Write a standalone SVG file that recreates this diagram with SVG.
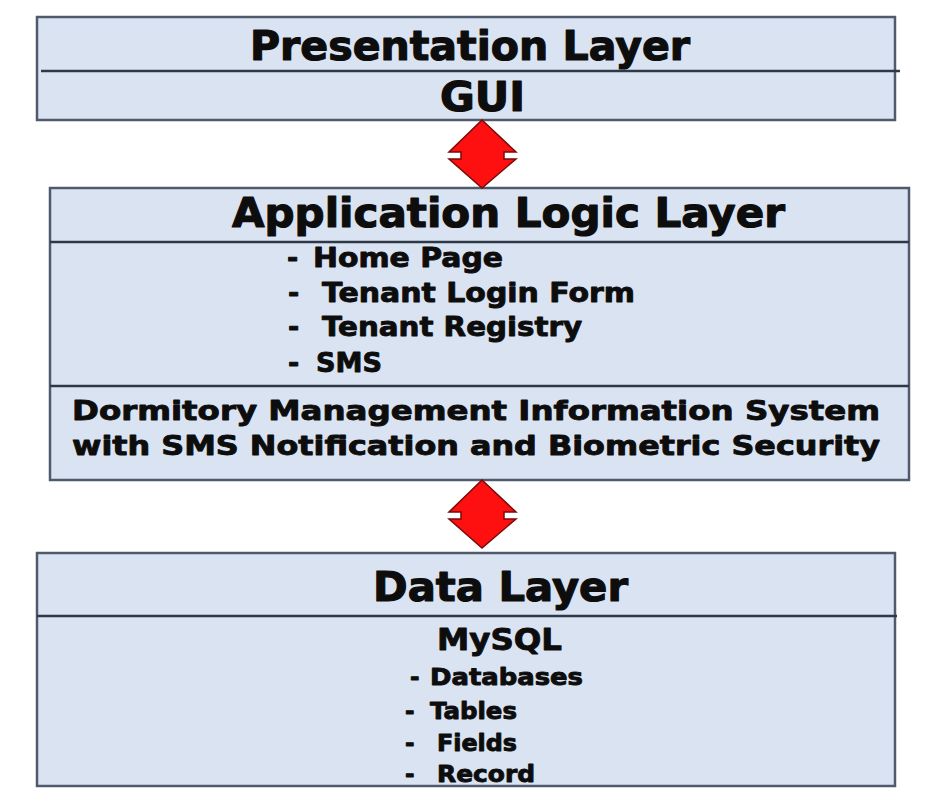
<svg xmlns="http://www.w3.org/2000/svg" xmlns:xlink="http://www.w3.org/1999/xlink" width="928" height="801" viewBox="0 0 928 801">
<style>
.box{fill:#dae3f2;stroke:#4f5b6d;stroke-width:2.5}
.div{stroke:#2e3846;stroke-width:2.5}
.t{font-family:"DejaVu Sans","Liberation Sans",sans-serif;font-weight:bold;fill:#0d0d0d;stroke:#0d0d0d;stroke-width:0.9;stroke-linejoin:round}
.h{font-size:41px;stroke-width:1.2}
.m{font-size:27px}
.s{font-size:23px}
.arrow{fill:#ff1010;stroke:#7a0a0a;stroke-width:1.5;stroke-linejoin:miter}
</style>
<defs>
<path id="dbl" d="M482,0 L516,32 L504,32 L504,39 L516,39 L482,68 L449,39 L461,39 L461,32 L449,32 Z"/>
</defs>
<rect width="928" height="801" fill="#ffffff"/>
<g id="presentation">
<rect class="box" x="37" y="17" width="858" height="103"/>
<line class="div" x1="41" y1="71" x2="900" y2="71"/>
<text class="t h" x="250" y="60" textLength="440" lengthAdjust="spacingAndGlyphs">Presentation Layer</text>
<text class="t h" x="440" y="111" textLength="85" lengthAdjust="spacingAndGlyphs">GUI</text>
</g>
<g id="application">
<rect class="box" x="50" y="188" width="859" height="292"/>
<line class="div" x1="50" y1="242" x2="909" y2="242"/>
<line class="div" x1="50" y1="386" x2="909" y2="386"/>
<text class="t h" x="232" y="227" textLength="553" lengthAdjust="spacingAndGlyphs">Application Logic Layer</text>
<text class="t m" y="267"><tspan x="287">- </tspan><tspan x="313" textLength="190" lengthAdjust="spacingAndGlyphs">Home Page</tspan></text>
<text class="t m" y="302"><tspan x="288">- </tspan><tspan x="322" textLength="313" lengthAdjust="spacingAndGlyphs">Tenant Login Form</tspan></text>
<text class="t m" y="336"><tspan x="288">- </tspan><tspan x="322" textLength="260" lengthAdjust="spacingAndGlyphs">Tenant Registry</tspan></text>
<text class="t m" y="372"><tspan x="288">- </tspan><tspan x="316" textLength="66" lengthAdjust="spacingAndGlyphs">SMS</tspan></text>
<text class="t m" x="72" y="420" textLength="808" lengthAdjust="spacingAndGlyphs">Dormitory Management Information System</text>
<text class="t m" x="72" y="455" textLength="808" lengthAdjust="spacingAndGlyphs">with SMS Notification and Biometric Security</text>
</g>
<g id="data">
<rect class="box" x="37" y="553" width="858" height="233"/>
<line class="div" x1="37" y1="616" x2="897" y2="616"/>
<text class="t h" x="373" y="601" textLength="255" lengthAdjust="spacingAndGlyphs">Data Layer</text>
<text class="t" style="font-size:31px" x="437" y="650" textLength="125" lengthAdjust="spacingAndGlyphs">MySQL</text>
<text class="t s" y="685"><tspan x="410">- </tspan><tspan x="430" textLength="153" lengthAdjust="spacingAndGlyphs">Databases</tspan></text>
<text class="t s" y="719"><tspan x="405">- </tspan><tspan x="430" textLength="87" lengthAdjust="spacingAndGlyphs">Tables</tspan></text>
<text class="t s" y="751"><tspan x="405">- </tspan><tspan x="437" textLength="80" lengthAdjust="spacingAndGlyphs">Fields</tspan></text>
<text class="t s" y="782"><tspan x="405">- </tspan><tspan x="437" textLength="98" lengthAdjust="spacingAndGlyphs">Record</tspan></text>
</g>
<g id="connectors">
<use xlink:href="#dbl" class="arrow" transform="translate(0,120)"/>
<use xlink:href="#dbl" class="arrow" transform="translate(0,480)"/>
</g>
</svg>
